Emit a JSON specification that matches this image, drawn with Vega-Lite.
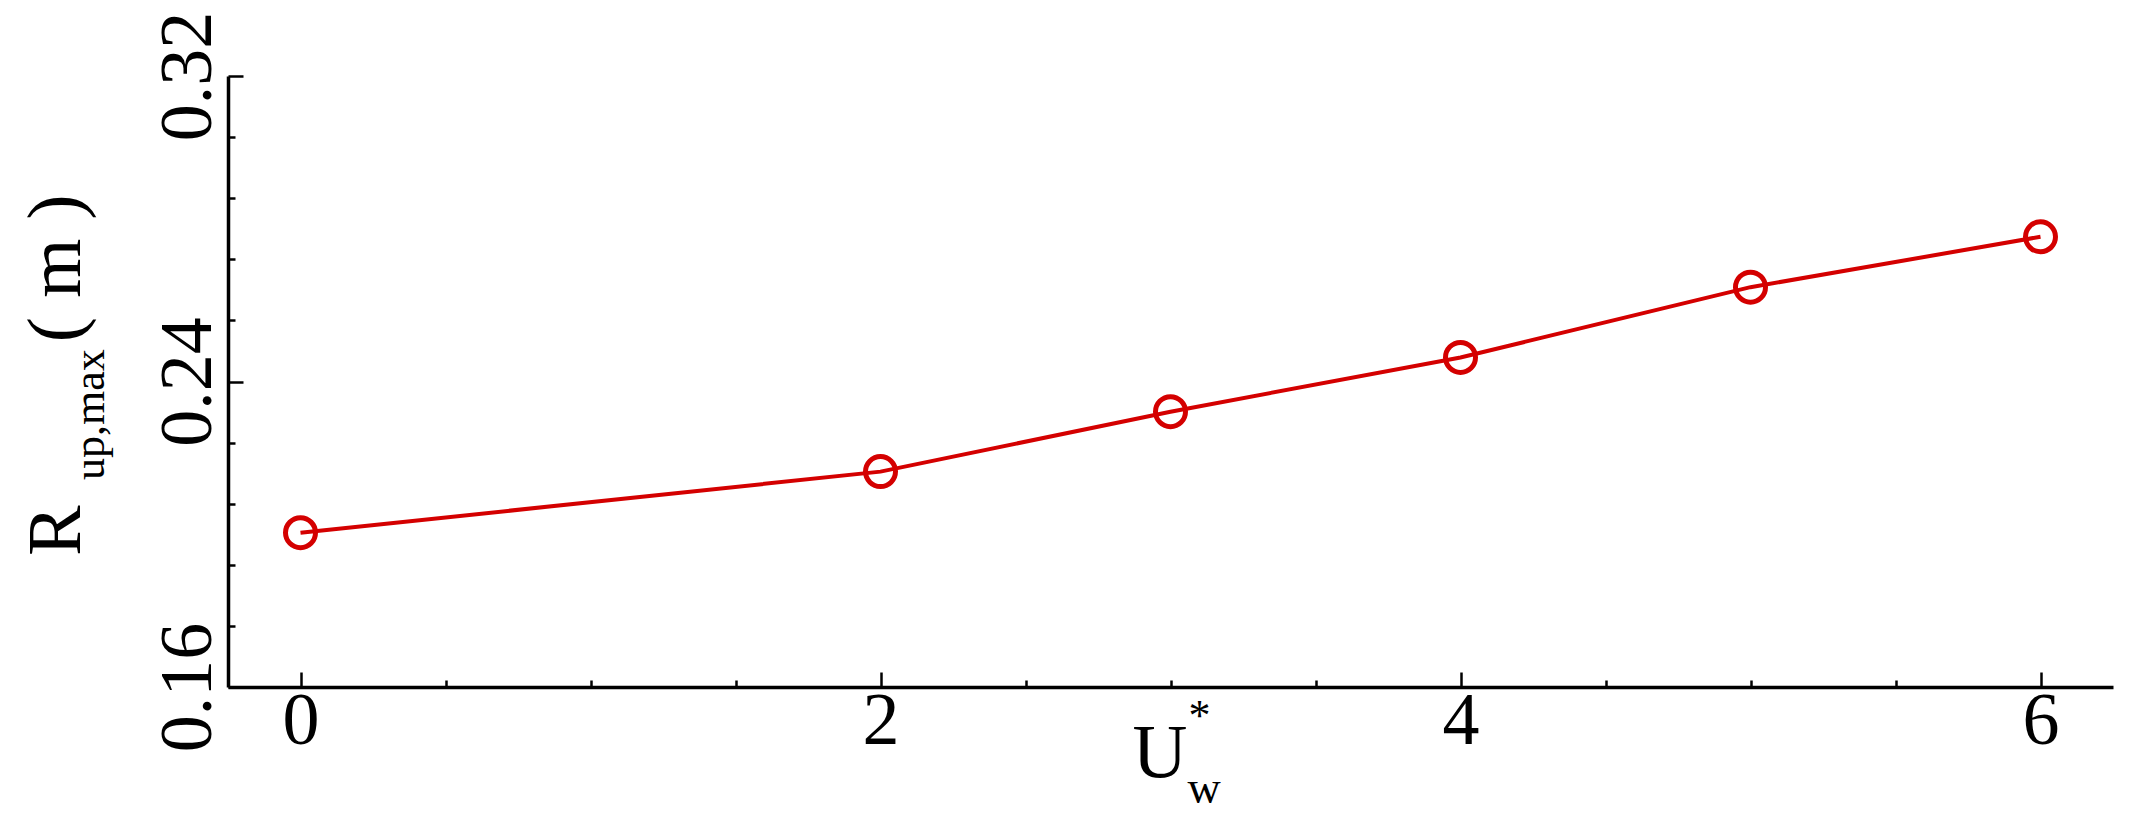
{
  "$schema": "https://vega.github.io/schema/vega-lite/v6.json",
  "width": 1885,
  "height": 611,
  "autosize": "none",
  "padding": {"left": 228, "top": 76, "right": 23, "bottom": 132},
  "background": "white",
  "config": {"view": {"stroke": null}, "font": "Liberation Serif"},
  "data": {
    "values": [
      {"u": 0, "r": 0.2004},
      {"u": 2, "r": 0.2164},
      {"u": 3, "r": 0.2321},
      {"u": 4, "r": 0.2463},
      {"u": 5, "r": 0.2647},
      {"u": 6, "r": 0.2779}
    ]
  },
  "layer": [
    {
      "mark": {"type": "line", "color": "#d40000", "strokeWidth": 4},
      "encoding": {
        "x": {
          "field": "u",
          "type": "quantitative",
          "scale": {"domain": [-0.25, 6.25], "nice": false, "zero": false},
          "axis": {
            "title": null,
            "grid": false,
            "values": [0, 0.5, 1, 1.5, 2, 2.5, 3, 3.5, 4, 4.5, 5, 5.5, 6],
            "format": "~g",
            "labelExpr": "datum.value % 2 === 0 ? datum.label : ''",
            "tickSize": {"condition": {"test": "datum.value % 2 === 0", "value": -15}, "value": -7},
            "tickWidth": 2.5,
            "tickColor": "black",
            "domainColor": "black",
            "domainWidth": 3.5,
            "labelFont": "Liberation Serif",
            "labelFontSize": 74,
            "labelColor": "black",
            "labelPadding": 13,
            "labelFlush": false,
            "labelOverlap": false
          }
        },
        "y": {
          "field": "r",
          "type": "quantitative",
          "scale": {"domain": [0.16, 0.32], "nice": false, "zero": false},
          "axis": {
            "title": null,
            "grid": false,
            "values": [0.16, 0.176, 0.192, 0.208, 0.224, 0.24, 0.256, 0.272, 0.288, 0.304, 0.32],
            "format": ".2f",
            "labelExpr": "indexof([0.16, 0.24, 0.32], datum.value) >= 0 ? datum.label : ''",
            "tickSize": {"condition": {"test": "indexof([0.16, 0.24, 0.32], datum.value) >= 0", "value": -15}, "value": -7},
            "tickWidth": 2.5,
            "tickColor": "black",
            "domainColor": "black",
            "domainWidth": 3.5,
            "labelFont": "Liberation Serif",
            "labelFontSize": 74,
            "labelColor": "black",
            "labelAngle": 270,
            "labelAlign": "center",
            "labelBaseline": "alphabetic",
            "labelPadding": 33,
            "labelFlush": false,
            "labelOverlap": false
          }
        }
      }
    },
    {
      "mark": {"type": "point", "shape": "circle", "filled": false, "color": "#d40000", "strokeWidth": 5, "size": 900, "opacity": 1},
      "encoding": {
        "x": {"field": "u", "type": "quantitative"},
        "y": {"field": "r", "type": "quantitative"}
      }
    },
    {
      "data": {"values": [{}]},
      "mark": {"type": "text", "text": "R", "angle": 270, "align": "left", "baseline": "alphabetic", "fontSize": 76, "font": "Liberation Serif", "color": "black"},
      "encoding": {"x": {"datum": -0.762}, "y": {"datum": 0.1943}}
    },
    {
      "data": {"values": [{}]},
      "mark": {"type": "text", "text": "up,max", "angle": 270, "align": "left", "baseline": "alphabetic", "fontSize": 44, "font": "Liberation Serif", "color": "black"},
      "encoding": {"x": {"datum": -0.676}, "y": {"datum": 0.2142}}
    },
    {
      "data": {"values": [{}]},
      "mark": {"type": "text", "text": "( m )", "angle": 270, "align": "left", "baseline": "alphabetic", "fontSize": 76, "font": "Liberation Serif", "color": "black"},
      "encoding": {"x": {"datum": -0.762}, "y": {"datum": 0.2503}}
    },
    {
      "data": {"values": [{}]},
      "mark": {"type": "text", "text": "U", "align": "left", "baseline": "alphabetic", "fontSize": 76, "font": "Liberation Serif", "color": "black"},
      "encoding": {"x": {"datum": 2.869}, "y": {"datum": 0.1364}}
    },
    {
      "data": {"values": [{}]},
      "mark": {"type": "text", "text": "*", "align": "left", "baseline": "alphabetic", "fontSize": 44, "font": "Liberation Serif", "color": "black"},
      "encoding": {"x": {"datum": 3.062}, "y": {"datum": 0.1487}}
    },
    {
      "data": {"values": [{}]},
      "mark": {"type": "text", "text": "w", "align": "left", "baseline": "alphabetic", "fontSize": 46, "font": "Liberation Serif", "color": "black"},
      "encoding": {"x": {"datum": 3.059}, "y": {"datum": 0.1296}}
    }
  ]
}
